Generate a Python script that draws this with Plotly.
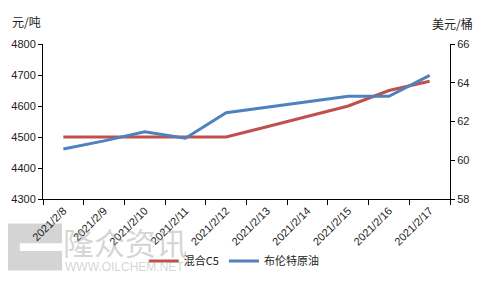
import plotly.graph_objects as go

dates = ["2021/2/8", "2021/2/9", "2021/2/10", "2021/2/11", "2021/2/12",
         "2021/2/13", "2021/2/14", "2021/2/15", "2021/2/16", "2021/2/17"]
c5 = [4500, 4500, 4500, 4500, 4500, 4533, 4567, 4600, 4650, 4680]
brent = [60.58, 61.0, 61.47, 61.14, 62.45, 62.73, 63.02, 63.30, 63.30, 64.38]

RED = "#C0504D"
BLUE = "#4F81BD"
FONT = "Liberation Sans, Noto Sans CJK SC, sans-serif"
WM = "rgba(160,160,160,0.45)"

fig = go.Figure()
fig.add_trace(go.Scatter(x=dates, y=c5, name="混合C5", mode="lines",
                         line=dict(color=RED, width=3), yaxis="y"))
fig.add_trace(go.Scatter(x=dates, y=brent, name="布伦特原油", mode="lines",
                         line=dict(color=BLUE, width=3), yaxis="y2"))

# watermark logo
fig.add_shape(type="rect", xref="paper", yref="paper", x0=-0.086, x1=0.047,
              y0=-0.462, y1=-0.158, fillcolor=WM, line=dict(width=0), layer="below")
fig.add_shape(type="rect", xref="paper", yref="paper", x0=-0.057, x1=0.047,
              y0=-0.335, y1=-0.285, fillcolor="white", line=dict(width=0), layer="below")
fig.add_annotation(x=0.201, y=-0.272, xref="paper", yref="paper",
                   xanchor="center", yanchor="middle",
                   text="隆众资讯", showarrow=False,
                   font=dict(family="Noto Sans CJK SC", size=31, color=WM))
fig.add_annotation(x=0.201, y=-0.437, xref="paper", yref="paper",
                   xanchor="center", yanchor="middle",
                   text="WWW.OILCHEM.NET", showarrow=False,
                   font=dict(family="Liberation Sans", size=12, color=WM))

fig.add_annotation(x=0, y=1, xref="paper", yref="paper", xanchor="right", yanchor="bottom",
                   yshift=12, text="元/吨", showarrow=False,
                   font=dict(family="Noto Sans CJK SC", size=12, color="#222"))
fig.add_annotation(x=1, y=1, xref="paper", yref="paper", xanchor="left", yanchor="bottom",
                   xshift=-20, yshift=10, text="美元/桶", showarrow=False,
                   font=dict(family="Noto Sans CJK SC", size=12, color="#222"))

fig.update_layout(
    width=480, height=288,
    margin=dict(l=43, r=30, t=44, b=86),
    paper_bgcolor="white", plot_bgcolor="white",
    font=dict(family=FONT, size=11, color="#222"),
    showlegend=True,
    legend=dict(orientation="h", x=0.47, xanchor="center", y=-0.40, yanchor="middle",
                font=dict(family="Noto Sans CJK SC", size=11), itemwidth=30,
                tracegroupgap=0, bgcolor="rgba(0,0,0,0)"),
    xaxis=dict(type="category", tickangle=-45, showline=True, linecolor="black",
               linewidth=1, ticks="outside", ticklen=5, tickcolor="black",
               tickson="boundaries", showgrid=False, range=[-0.5, 9.5],
               tickfont=dict(size=11), automargin=False),
    yaxis=dict(range=[4300, 4800], dtick=100, showline=True, linecolor="black",
               linewidth=1, ticks="outside", ticklen=4, tickcolor="black",
               showgrid=False, zeroline=False, automargin=False),
    yaxis2=dict(range=[58, 66], dtick=2, overlaying="y", side="right",
                showline=True, linecolor="black", linewidth=1, ticks="outside",
                ticklen=4, tickcolor="black", showgrid=False, zeroline=False,
                automargin=False),
)

fig.write_html("out.html")
